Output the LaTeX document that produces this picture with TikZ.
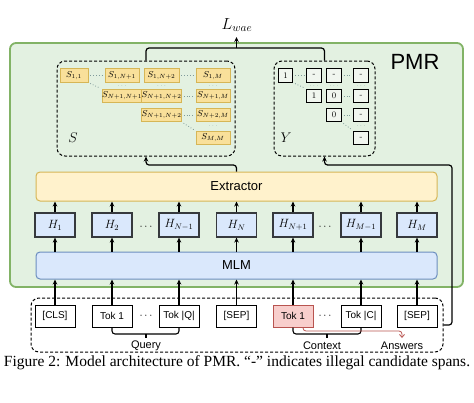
\documentclass[tikz,border=0pt]{standalone}
\usepackage{fix-cm}
\usepackage{fontspec}
\setsansfont{Liberation Sans}
\newfontfamily\capfont{Liberation Serif}
\usetikzlibrary{arrows.meta}
\definecolor{gfill}{HTML}{E3F1E1}
\definecolor{gdraw}{HTML}{82B366}
\definecolor{efill}{HTML}{FFF2CC}
\definecolor{edraw}{HTML}{D6B656}
\definecolor{hfill}{HTML}{DAE8FC}
\definecolor{hdraw}{HTML}{36393D}
\definecolor{mdraw}{HTML}{6C8EBF}
\definecolor{sfill}{HTML}{F9E09A}
\definecolor{sdraw}{HTML}{D6B656}
\definecolor{ycfill}{HTML}{F1F6EF}
\definecolor{rfill}{HTML}{F8CECC}
\definecolor{rdraw}{HTML}{B85450}
\definecolor{dotc}{HTML}{7F9A9A}
\begin{document}
\begin{tikzpicture}[x=1pt,y=-1pt,
  arr/.style={-{Stealth[length=5pt,width=4.5pt]}, line width=1.2pt, black},
  plainline/.style={line width=1.2pt, black},
  hbox/.style={draw=hdraw, fill=hfill, line width=1.2pt, minimum width=40pt, minimum height=24pt, inner sep=0pt, font=\fontsize{12}{12}\selectfont},
  tokbox/.style={draw=black, fill=white, line width=1pt, minimum width=40pt, minimum height=22pt, inner sep=0pt, font=\sffamily\fontsize{10}{10}\selectfont},
  bigbar/.style={rounded corners=4pt, line width=1pt, minimum width=401pt, inner sep=0pt, font=\sffamily\fontsize{13}{13}\selectfont},
  scell/.style={draw=sdraw, fill=sfill, line width=0.8pt, minimum height=13.5pt, minimum width=34pt, inner sep=0pt, font=\fontsize{8.6}{8.6}\selectfont},
  ycell/.style={draw=black, fill=ycfill, line width=1pt, minimum width=14.5pt, minimum height=13.5pt, inner sep=0pt, font=\fontsize{8.5}{8.5}\selectfont},
  dashbox/.style={draw=black, dashed, dash pattern=on 3pt off 2pt, line width=1pt, rounded corners=8pt},
  dotsty/.style={dotc, dotted, line width=0.8pt, shorten >=2pt, shorten <=2pt},
  dotn/.style={dotc, inner sep=0pt, font=\fontsize{6}{6}\selectfont},
  hdots/.style={inner sep=0pt, font=\fontsize{11}{11}\selectfont},
  lab/.style={inner sep=0pt, font=\sffamily\fontsize{11}{11}\selectfont}
]
\useasboundingbox (0,0) rectangle (474,402);

% green PMR container
\draw[fill=gfill, draw=gdraw, line width=1.8pt, rounded corners=6pt] (10,43) rectangle (463,287);
\node[inner sep=0pt, font=\sffamily\fontsize{22}{22}\selectfont] (pmr) at (415,62) {PMR};

% dashed S and Y boxes
\node[dashbox, minimum width=178pt, minimum height=95pt, inner sep=0pt] (S) at (146,108.5) {};
\node[dashbox, minimum width=101pt, minimum height=95pt, inner sep=0pt] (Y) at (324.5,108.5) {};
\node[inner sep=0pt, font=\fontsize{14}{14}\selectfont] (Slab) at (73,138) {$S$};
\node[inner sep=0pt, font=\fontsize{14}{14}\selectfont] (Ylab) at (286,138) {$Y$};

% S cells
\node[scell, minimum width=28pt] (s11) at (74,75.5) {$S_{1,1}$};
\node[scell] (s1a) at (122,75.5) {$S_{1,N{+}1}$};
\node[scell, minimum width=35pt] (s1b) at (161.5,75.5) {$S_{1,N{+}2}$};
\node[scell] (s1m) at (213,75.5) {$S_{1,M}$};
\node[scell] (saa) at (122,96) {$S_{N{+}1,N{+}1}$};
\node[scell, minimum width=35pt] (sab) at (161.5,96) {$S_{N{+}1,N{+}2}$};
\node[scell] (sam) at (213,96) {$S_{N{+}1,M}$};
\node[scell, minimum width=35pt] (sbb) at (161.5,115) {$S_{N{+}1,N{+}2}$};
\node[scell] (sbm) at (213,115) {$S_{N{+}2,M}$};
\node[scell] (smm) at (213,138) {$S_{M,M}$};

\draw[dotsty] (s11) -- (s1a);
\draw[dotsty] (s1b) -- (s1m);
\draw[dotsty] (sab) -- (sam);
\draw[dotsty] (sbb) -- (sbm);
\draw[dotsty] (s11.south east) -- (saa.north west);
\draw[dotsty] (sbb.south east) -- (smm.north west);
\node[dotn] (sd1) at (122,86) {$\cdots$};
\node[dotn] (sd2) at (161.5,86) {$\cdots$};
\node[dotn] (sd3) at (213,86) {$\cdots$};
\node[dotn] (sd4) at (213,126) {$\cdots$};

% Y cells
\node[ycell] (y11) at (285.5,75.5) {1};
\node[ycell] (y1a) at (314,75.5) {-};
\node[ycell] (y1b) at (334,75.5) {-};
\node[ycell] (y1m) at (361,75.5) {-};
\node[ycell] (yaa) at (314,96) {1};
\node[ycell] (yab) at (334,96) {0};
\node[ycell] (yam) at (361,96) {-};
\node[ycell] (ybb) at (334,115) {0};
\node[ycell] (ybm) at (361,115) {-};
\node[ycell] (ymm) at (361,138) {-};

\draw[dotsty] (y11) -- (y1a);
\draw[dotsty] (y1b) -- (y1m);
\draw[dotsty] (yab) -- (yam);
\draw[dotsty] (ybb) -- (ybm);
\draw[dotsty] (y11.south east) -- (yaa.north west);
\draw[dotsty] (ybb.south east) -- (ymm.north west);
\node[dotn] (yd1) at (314,86) {$\cdots$};
\node[dotn] (yd2) at (334,86) {$\cdots$};
\node[dotn] (yd3) at (361,86) {$\cdots$};
\node[dotn] (yd4) at (361,126) {$\cdots$};

% L_wae
\node[inner sep=0pt, font=\fontsize{16}{16}\selectfont] (L) at (237,25) {$L_{wae}$};
\coordinate (j) at (236.5,48);
\coordinate (lt) at (236.5,37);
\draw[plainline, rounded corners=3pt] (S.north) |- (j) -| (Y.north);
\draw[arr] (j) -- (lt);

% Extractor and MLM
\node[bigbar, draw=edraw, fill=efill, minimum height=29pt] (ext) at (236.5,186.5) {Extractor};
\node[bigbar, draw=mdraw, fill=hfill, minimum height=27pt] (mlm) at (236.5,265.5) {MLM};

% H boxes
\node[hbox] (h1) at (55,225) {$H_1$};
\node[hbox] (h2) at (112,225) {$H_2$};
\node[hbox] (h3) at (179,225) {$H_{N-1}$};
\node[hbox] (h4) at (236.5,225) {$H_N$};
\node[hbox] (h5) at (293,225) {$H_{N+1}$};
\node[hbox] (h6) at (361,225) {$H_{M-1}$};
\node[hbox] (h7) at (417,225) {$H_M$};
\node[hdots] (hd1) at (146,227) {$\cdots$};
\node[hdots] (hd2) at (325,227) {$\cdots$};

\foreach \n in {h1,h2,h3,h4,h5,h6,h7}{
  \draw[arr] (\n.north) -- (\n.north |- ext.south);
  \draw[arr] (\n.south |- mlm.north) -- (\n.south);
}

% extractor to S
\coordinate (k) at (236.5,165);
\draw[arr, rounded corners=3pt] (ext.north) -- (k) -| (S.south);

% token dashed box
\node[dashbox, minimum width=412pt, minimum height=54pt, inner sep=0pt] (tokall) at (237,325) {};

% tokens
\node[tokbox] (t1) at (55,316) {[CLS]};
\node[tokbox] (t2) at (112,316) {Tok 1};
\node[tokbox] (t3) at (179,316) {Tok |Q|};
\node[tokbox] (t4) at (236.5,316) {[SEP]};
\node[tokbox, draw=rdraw, fill=rfill] (t5) at (293,316) {Tok 1};
\node[tokbox] (t6) at (361,316) {Tok |C|};
\node[tokbox] (t7) at (417,316) {[SEP]};
\node[hdots] (td1) at (146,316) {$\cdots$};
\node[hdots] (td2) at (325,316) {$\cdots$};

\foreach \n in {t1,t2,t3,t4,t5,t6,t7}{
  \draw[arr] (\n.north) -- (\n.north |- mlm.south);
}

% right loop to Y
\coordinate (r2) at (452,165);
\draw[arr, rounded corners=3pt] (tokall.east) -| (r2) -| (Y.south);

% braces
\coordinate (qm) at (146,334);
\coordinate (cm) at (327,334);
\draw[line width=1.1pt, rounded corners=3pt] (t2.south) |- (qm) -| (t3.south);
\draw[line width=1.1pt] (qm) -- ++(0,4);
\draw[line width=1.1pt, rounded corners=3pt] (t5.south) |- (cm) -| (t6.south);
\draw[line width=1.1pt] (cm) -- ++(0,4);
\node[lab] (ql) at (146,346) {Query};
\node[lab] (cl) at (322,346) {Context};
\node[lab] (al) at (402,346) {Answers};

% answers arrow
\coordinate (ac) at (402,331);
\coordinate (at) at (402,338);
\draw[rdraw, line width=0.8pt, rounded corners=3pt, -{Straight Barb[length=3pt,width=5pt]}] ([xshift=10pt]t5.south) |- (ac) -- (at);

% caption
\node[inner sep=0pt, font=\capfont\fontsize{15.5}{16}\selectfont] (cap) at (237,363) {Figure 2: Model architecture of PMR. “-” indicates illegal candidate spans.};
\end{tikzpicture}
\end{document}
